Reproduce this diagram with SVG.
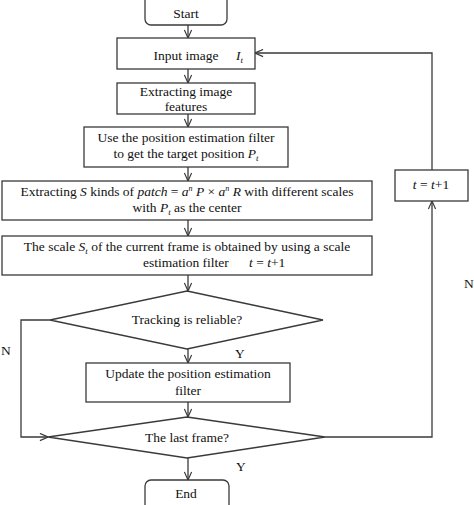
<svg xmlns="http://www.w3.org/2000/svg" width="474" height="505" viewBox="0 0 474 505">
<style>
.b{fill:#fff;stroke:#3a3a3a;stroke-width:1.3}
.c{fill:none;stroke:#3a3a3a;stroke-width:1.3}
text{font-family:"Liberation Serif","DejaVu Serif",serif;font-size:13.5px;fill:#111}
.m{text-anchor:middle}
.i{font-style:italic}
</style>
<defs>
<marker id="a" viewBox="0 0 10 10" refX="10" refY="5" markerWidth="9" markerHeight="9" markerUnits="userSpaceOnUse" orient="auto">
<path d="M1,1 L10,5 L1,9" fill="none" stroke="#3a3a3a" stroke-width="1.3"/>
</marker>
</defs>
<rect width="474" height="505" fill="#fff"/>
<g id="connectors">
<line class="c" x1="188" y1="25" x2="188" y2="38" marker-end="url(#a)"/>
<line class="c" x1="188" y1="69" x2="188" y2="83" marker-end="url(#a)"/>
<line class="c" x1="188" y1="114" x2="188" y2="127" marker-end="url(#a)"/>
<line class="c" x1="188" y1="167" x2="188" y2="181" marker-end="url(#a)"/>
<line class="c" x1="188" y1="220" x2="188" y2="236" marker-end="url(#a)"/>
<line class="c" x1="188" y1="275" x2="188" y2="291" marker-end="url(#a)"/>
<line class="c" x1="188" y1="349" x2="188" y2="363" marker-end="url(#a)"/>
<line class="c" x1="188" y1="402" x2="188" y2="417" marker-end="url(#a)"/>
<line class="c" x1="188" y1="458" x2="188" y2="480" marker-end="url(#a)"/>
<polyline class="c" points="50,320 21,320 21,437 48,437" marker-end="url(#a)"/>
<polyline class="c" points="325,437 432,437 432,201" marker-end="url(#a)"/>
<polyline class="c" points="432,170 432,53 255,53" marker-end="url(#a)"/>
<text x="1" y="355">N</text>
<text x="235" y="358">Y</text>
<text x="464" y="288">N</text>
<text x="236" y="471">Y</text>
</g>
<g id="start">
<rect class="b" x="145" y="-6" width="82" height="31" rx="6"/>
<text class="m" x="186" y="18">Start</text>
</g>
<g id="input">
<rect class="b" x="117" y="38" width="138" height="31"/>
<text class="m" x="186" y="60">Input image</text>
<text class="i" x="236" y="60">I<tspan font-size="9" dy="3">t</tspan></text>
</g>
<g id="features">
<rect class="b" x="117" y="83" width="138" height="31"/>
<text class="m" x="186" y="96">Extracting image</text>
<text class="m" x="186" y="111">features</text>
</g>
<g id="position">
<rect class="b" x="84" y="127" width="204" height="40"/>
<text class="m" x="186" y="142">Use the position estimation filter</text>
<text class="m" x="186" y="158">to get the target position <tspan class="i">P</tspan><tspan class="i" font-size="9" dy="3">t</tspan></text>
</g>
<g id="patch">
<rect class="b" x="2" y="181" width="370" height="39"/>
<text class="m" x="187" y="196">Extracting <tspan class="i">S</tspan> kinds of <tspan class="i">patch</tspan> = <tspan class="i">a</tspan><tspan class="i" font-size="8" dy="-5">n</tspan><tspan dy="5"> </tspan><tspan class="i">P</tspan> × <tspan class="i">a</tspan><tspan class="i" font-size="8" dy="-5">n</tspan><tspan dy="5"> </tspan><tspan class="i">R</tspan> with different scales</text>
<text class="m" x="187" y="212">with <tspan class="i">P</tspan><tspan class="i" font-size="9" dy="3">t</tspan><tspan dy="-3"> as the center</tspan></text>
</g>
<g id="scale">
<rect class="b" x="2" y="236" width="370" height="39"/>
<text class="m" x="187" y="251">The scale <tspan class="i">S</tspan><tspan class="i" font-size="9" dy="3">t</tspan><tspan dy="-3"> of the current frame is obtained by using a scale</tspan></text>
<text x="143" y="267">estimation filter</text>
<text x="249" y="267"><tspan class="i">t</tspan> = <tspan class="i">t</tspan>+1</text>
</g>
<g id="reliable">
<polygon class="b" points="187,291 323,320 187,349 50,320"/>
<text class="m" x="187" y="324">Tracking is reliable?</text>
</g>
<g id="update">
<rect class="b" x="86" y="363" width="204" height="39"/>
<text class="m" x="188" y="378">Update the position estimation</text>
<text class="m" x="188" y="395">filter</text>
</g>
<g id="lastframe">
<polygon class="b" points="187,417 325,437 187,458 48,437"/>
<text class="m" x="187" y="442">The last frame?</text>
</g>
<g id="inc">
<rect class="b" x="395" y="170" width="73" height="31"/>
<text class="m" x="431" y="189"><tspan class="i">t</tspan> = <tspan class="i">t</tspan>+1</text>
</g>
<g id="end">
<rect class="b" x="145" y="480" width="84" height="32" rx="6"/>
<text class="m" x="186" y="498">End</text>
</g>
</svg>
